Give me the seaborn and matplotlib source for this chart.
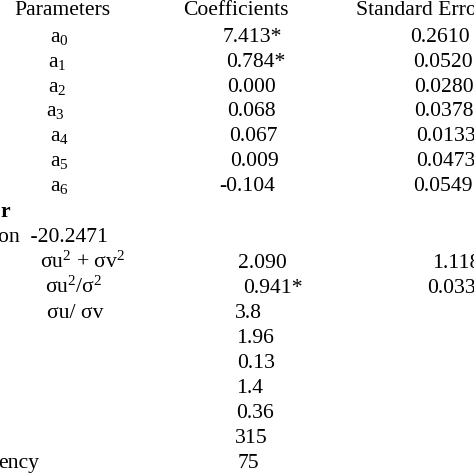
import matplotlib
matplotlib.use("Agg")
import matplotlib.pyplot as plt
import seaborn as sns

# --- DATA ---
HEADERS = ["Parameters", "Coefficients", "Standard Error"]
PARAMS = ["a$_0$", "a$_1$", "a$_2$", "a$_3$", "a$_4$", "a$_5$", "a$_6$"]
COEFS = ["7.413*", "0.784*", "0.000", "0.068", "0.067", "0.009", "-0.104"]
STD_ERRS = ["0.2610", "0.0520", "0.0280", "0.0378", "0.0133", "0.0473", "0.0549"]
LOG_LIK = "on  -20.2471"
VAR_LABELS = ["σu$^2$ + σv$^2$", "σu$^2$/σ$^2$", "σu/ σv", "", "", "", "", "", "ency"]
VAR_VALUES = ["2.090", "0.941*", "3.8", "1.96", "0.13", "1.4", "0.36", "315", "75"]
VAR_ERRS = ["1.118", "0.033", "", "", "", "", "", "", ""]

sns.set_theme(style="white")
plt.rcParams["font.family"] = ["Liberation Serif", "DejaVu Serif"]
plt.rcParams["mathtext.fontset"] = "custom"
plt.rcParams["mathtext.rm"] = "Liberation Serif"
plt.rcParams["mathtext.it"] = "Liberation Serif"
plt.rcParams["mathtext.default"] = "regular"

W = H = 474
fig = plt.figure(figsize=(4.74, 4.74), dpi=100)
fig.patch.set_facecolor("white")
ax = fig.add_axes([0, 0, 1, 1])
ax.set_xlim(0, W)
ax.set_ylim(H, 0)
ax.axis("off")

FS = 15.6
kw = dict(fontsize=FS, color="black", va="baseline", ha="left", clip_on=False)

# header
for x, t in zip([14, 183, 356], HEADERS):
    ax.text(x, 15, t, **kw)

# parameter rows
base = [42, 67, 92, 116, 141, 166, 191]
px = [50, 48, 48, 46, 50, 50, 50]
cx = [223, 226, 227, 227, 229, 230, 219]
sx = [410, 413, 414, 414, 416, 416, 413]
for y, p, c, s, a, b, d in zip(base, PARAMS, COEFS, STD_ERRS, px, cx, sx):
    ax.text(a, y, p, **kw)
    ax.text(b, y, c, **kw)
    ax.text(d, y, s, **kw)

ax.text(0, 217, "r", fontweight="bold", **kw)
ax.text(-2, 242, LOG_LIK, **kw)

lower = [268, 293, 318, 343, 368, 393, 418, 443, 468]
lx = [40, 45, 47, 0, 0, 0, 0, 0, -2]
vx = [238, 243, 235, 236, 237, 236, 236, 235, 238]
for y, l, v, e, a, b in zip(lower, VAR_LABELS, VAR_VALUES, VAR_ERRS, lx, vx):
    if l:
        ax.text(a, y, l, **kw)
    ax.text(b, y, v, **kw)
    if e:
        ax.text(432 if e == "1.118" else 427, y, e, **kw)

fig.savefig("out.png", dpi=100, facecolor="white")
